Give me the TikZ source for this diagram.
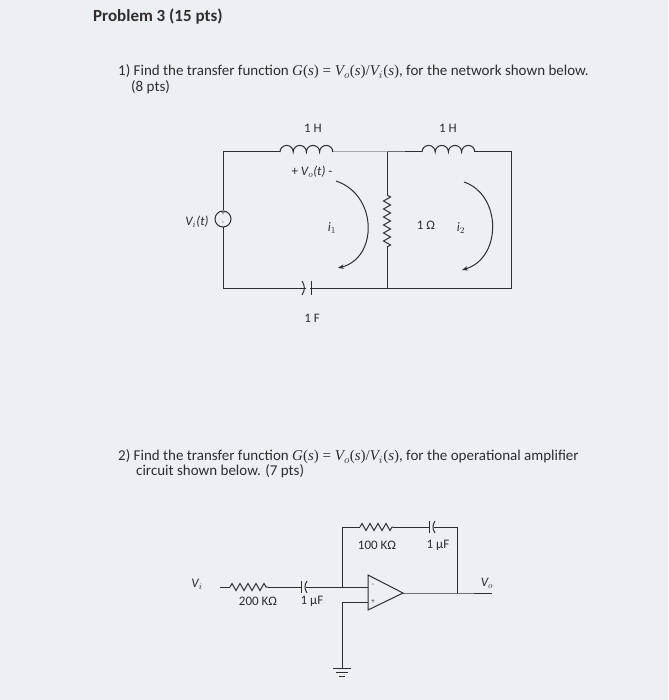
\documentclass[tikz,border=0pt]{standalone}
\usepackage{fontspec}
\setmainfont{Carlito}
\newfontfamily\mathish{Liberation Serif}
\usetikzlibrary{decorations.pathmorphing,arrows.meta}
\definecolor{bg}{RGB}{236,239,244}
\definecolor{ink}{RGB}{45,45,50}
\newcommand{\mi}[1]{{\mathish\itshape #1}}
\newcommand{\mr}[1]{{\mathish #1}}
\tikzset{wire/.style={draw=ink,line width=1pt},
 lbl/.style={text=ink,font=\fontsize{13}{14}\selectfont,inner sep=1pt},
 txt/.style={text=ink,font=\fontsize{15}{16}\selectfont,anchor=west,inner sep=0pt},
 res/.style={decorate,decoration={zigzag,segment length=8pt,amplitude=3.5pt}}}
\begin{document}
\begin{tikzpicture}[x=1pt,y=-1pt]
\fill[bg] (0,0) rectangle (668,700);
\useasboundingbox (0,0) rectangle (668,700);
\node[txt,font=\bfseries\fontsize{17}{18}\selectfont] (title) at (93,17) {Problem 3 (15 pts)};
\node[txt] (q1) at (118,72) {1) Find the transfer function \mi{G}\mr{(}\mi{s}\mr{) = }\mi{V}$_o$\mr{(}\mi{s}\mr{)/}\mi{V}$_i$\mr{(}\mi{s}\mr{)}, for the network shown below.};
\node[txt] (q1b) at (131,87) {(8 pts)};
\node[txt] (q2) at (118,457) {2) Find the transfer function \mi{G}\mr{(}\mi{s}\mr{) = }\mi{V}$_o$\mr{(}\mi{s}\mr{)/}\mi{V}$_i$\mr{(}\mi{s}\mr{)}, for the operational amplifier};
\node[txt] (q2b) at (136,471) {circuit shown below. (7 pts)};
% circuit 1
\coordinate (TL) at (223,152); \coordinate (BL) at (223,288);
\coordinate (TM) at (387,152); \coordinate (BM) at (387,288);
\coordinate (TR) at (511,152); \coordinate (BR) at (511,288);
\coordinate (L1a) at (280,152); \coordinate (L1b) at (333,152);
\coordinate (L2a) at (422,152); \coordinate (L2b) at (475,152);
\node[circle,draw=ink,line width=1pt,minimum size=16pt,inner sep=0pt] (src) at (223,219) {};
\node[lbl,font=\fontsize{7}{7}\selectfont] at (223,214) {+};
\node[lbl,font=\fontsize{7}{7}\selectfont] at (223,223) {-};
\draw[wire] (src.north) -- (TL) -- (L1a);
\draw[wire] (L1a) \foreach \i in {1,...,4} {arc(180:360:6.6)};
\draw[wire] (L1b) -- (TM) -- (L2a);
\draw[wire] (L2a) \foreach \i in {1,...,4} {arc(180:360:6.6)};
\draw[wire] (L2b) -- (TR) -- (BR) -- (BM);
\draw[wire] (TM) -- (387,195);
\draw[wire,res] (387,195) -- (387,247);
\draw[wire] (387,247) -- (BM);
\coordinate (Ca) at (306,288); \coordinate (Cb) at (310,288);
\draw[wire] (BM) -- (Cb); \draw[wire] (Ca) -- (BL) -- (src.south);
\draw[wire] (311,281) -- (311,295);
\draw[wire] (302,281) to[bend left=35] (302,295);
\node[lbl] (l1) at (313,128) {1 H};
\node[lbl] (l2) at (448,128) {1 H};
\node[lbl] (vo) at (312,172) {+ \textit{V$_o$(t)} -};
\node[lbl] (vi) at (197,222) {\textit{V$_i$(t)}};
\node[lbl] (i1) at (332,228) {\textit{i$_1$}};
\node[lbl] (r1) at (426,225) {1 Ω};
\node[lbl] (i2) at (461,228) {\textit{i$_2$}};
\node[lbl] (c1) at (312,318) {1 F};
\draw[wire,-{Stealth[length=6pt]}] (336,181) .. controls (378,195) and (378,258) .. (338,268);
\draw[wire,-{Stealth[length=6pt]}] (464,182) .. controls (502,195) and (502,258) .. (462,270);
% circuit 2
\coordinate (vin) at (220,587); \coordinate (J) at (342,587);
\coordinate (Ra) at (230,587); \coordinate (Rb) at (268,587);
\draw[wire] (vin) -- (Ra); \draw[wire,res] (Ra) -- (Rb); \draw[wire] (Rb) -- (301,587);
\draw[wire] (301,581) -- (301,593);
\draw[wire] (307,581) to[bend right=35] (307,593);
\draw[wire] (306,587) -- (J);
\coordinate (oa) at (368,575); \coordinate (ob) at (368,610); \coordinate (oc) at (403,593);
\draw[wire] (oa) -- (ob) -- (oc) -- cycle;
\node[lbl,font=\fontsize{7}{7}\selectfont] at (373,585) {-};
\node[lbl,font=\fontsize{7}{7}\selectfont] at (373,602) {+};
\draw[wire] (J) -- (368,587);
\coordinate (Out) at (457,593);
\draw[wire] (oc) -- (Out) -- (492,593);
\draw[wire] (J) -- (342,527) -- (360,527);
\draw[wire,res] (360,527) -- (393,527);
\draw[wire] (393,527) -- (429,527);
\draw[wire] (429,521) -- (429,533);
\draw[wire] (435,521) to[bend right=35] (435,533);
\draw[wire] (434,527) -- (457,527) -- (Out);
\coordinate (G) at (342,668);
\draw[wire] (368,602) -- (342,602) -- (G);
\draw[wire] (333,668) -- (351,668);
\draw[wire] (336,672) -- (348,672);
\draw[wire] (339,676) -- (345,676);
\node[lbl] (vi2) at (197,584) {\textit{V$_i$}};
\node[lbl] (vo2) at (487,583) {\textit{V$_o$}};
\node[lbl] (r2) at (258,601) {200 KΩ};
\node[lbl] (c2) at (312,601) {1 μF};
\node[lbl] (r3) at (377,545) {100 KΩ};
\node[lbl] (c3) at (438,545) {1 μF};
\end{tikzpicture}
\end{document}
